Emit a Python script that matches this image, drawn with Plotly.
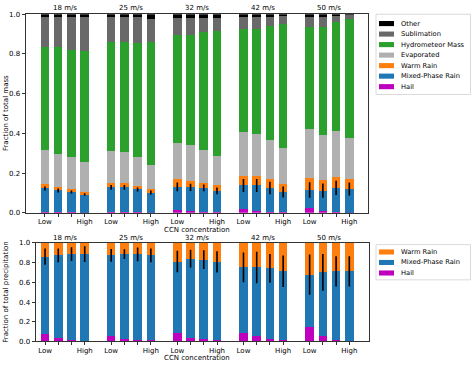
import plotly.graph_objects as go

# ---------------- data ----------------
speeds = ["18 m/s", "25 m/s", "32 m/s", "42 m/s", "50 m/s"]
ccn_labels = ["Low", "", "", "High"]

# Top panel: fraction of total mass (segments, bottom to top)
mass_hail = [0.005, 0.004, 0.002, 0.001, 0.006, 0.004, 0.002, 0.001, 0.015, 0.008,
             0.005, 0.003, 0.020, 0.010, 0.005, 0.002, 0.025, 0.010, 0.003, 0.001]
mass_mixed = [0.118, 0.109, 0.103, 0.091, 0.122, 0.124, 0.116, 0.101, 0.116, 0.120,
              0.121, 0.107, 0.118, 0.128, 0.120, 0.103, 0.090, 0.102, 0.123, 0.119]
mass_warm = [0.022, 0.019, 0.015, 0.015, 0.020, 0.023, 0.018, 0.016, 0.037, 0.032,
             0.025, 0.030, 0.046, 0.046, 0.044, 0.040, 0.058, 0.051, 0.053, 0.049]
mass_evap = [0.173, 0.166, 0.160, 0.151, 0.163, 0.157, 0.145, 0.125, 0.186, 0.182,
             0.165, 0.146, 0.224, 0.214, 0.198, 0.181, 0.247, 0.229, 0.232, 0.206]
mass_hydro = [0.517, 0.539, 0.538, 0.558, 0.548, 0.550, 0.576, 0.617, 0.541, 0.553,
              0.596, 0.628, 0.517, 0.530, 0.576, 0.624, 0.518, 0.546, 0.552, 0.601]
mass_sub = [0.153, 0.151, 0.170, 0.169, 0.126, 0.127, 0.128, 0.115, 0.084, 0.084,
            0.070, 0.068, 0.060, 0.057, 0.042, 0.040, 0.046, 0.046, 0.027, 0.019]
mass_other = [0.012, 0.012, 0.012, 0.015, 0.015, 0.015, 0.015, 0.025, 0.021, 0.021,
              0.018, 0.018, 0.015, 0.015, 0.015, 0.010, 0.016, 0.016, 0.010, 0.005]
mass_err = [0.010, 0.010, 0.008, 0.006, 0.012, 0.012, 0.010, 0.010, 0.022, 0.018,
            0.017, 0.017, 0.033, 0.033, 0.031, 0.028, 0.039, 0.036, 0.036, 0.033]

# Bottom panel: fraction of total precipitation
precip_hail = [0.072, 0.033, 0.010, 0.005, 0.056, 0.030, 0.010, 0.010, 0.089, 0.033,
               0.026, 0.010, 0.089, 0.056, 0.026, 0.017, 0.142, 0.056, 0.017, 0.005]
precip_mixed = [0.789, 0.841, 0.877, 0.882, 0.818, 0.857, 0.874, 0.864, 0.722, 0.808,
                0.805, 0.798, 0.663, 0.696, 0.716, 0.695, 0.536, 0.646, 0.695, 0.707]
precip_warm = [0.139, 0.126, 0.113, 0.113, 0.126, 0.113, 0.116, 0.126, 0.189, 0.159,
               0.169, 0.192, 0.248, 0.248, 0.258, 0.288, 0.322, 0.298, 0.288, 0.288]
precip_err = [0.082, 0.070, 0.070, 0.080, 0.065, 0.050, 0.070, 0.070, 0.109, 0.090,
              0.095, 0.107, 0.152, 0.160, 0.145, 0.160, 0.204, 0.187, 0.154, 0.154]

y_ticks = [0.0, 0.2, 0.4, 0.6, 0.8, 1.0]

# ---------------- styling ----------------
W, H = 474, 366
FONT = "DejaVu Sans"
FS = 7
LFS = 6.7
C = {
    "Other": "#000000",
    "Sublimation": "#696969",
    "Hydrometeor Mass": "#2ca02c",
    "Evaporated": "#b0b0b0",
    "Warm Rain": "#ff7f0e",
    "Mixed-Phase Rain": "#1f77b4",
    "Hail": "#bf00bf",
}
BAR_W = 0.65
AX = "#333333"


def px(x):
    return x / W


def py(y):
    return 1 - y / H


ng = len(speeds)
nb = len(ccn_labels)
xpos = [g * (nb + 1) + i for g in range(ng) for i in range(nb)]
xtext = [ccn_labels[i] for g in range(ng) for i in range(nb)]

fig = go.Figure()

top_series = [("Hail", mass_hail), ("Mixed-Phase Rain", mass_mixed), ("Warm Rain", mass_warm),
              ("Evaporated", mass_evap), ("Hydrometeor Mass", mass_hydro),
              ("Sublimation", mass_sub), ("Other", mass_other)]
for name, vals in top_series:
    fig.add_trace(go.Bar(x=xpos, y=vals, name=name, width=BAR_W, marker=dict(color=C[name], line=dict(width=0)),
                         xaxis="x", yaxis="y", showlegend=False))

bot_series = [("Hail", precip_hail), ("Mixed-Phase Rain", precip_mixed), ("Warm Rain", precip_warm)]
for name, vals in bot_series:
    fig.add_trace(go.Bar(x=xpos, y=vals, name=name, width=BAR_W, marker=dict(color=C[name], line=dict(width=0)),
                         xaxis="x2", yaxis="y2", showlegend=False))

# error bars at the top of the mixed-phase rain segment
fig.add_trace(go.Scatter(x=xpos, y=[h + m for h, m in zip(mass_hail, mass_mixed)], mode="markers",
                         marker=dict(size=1, color="rgba(0,0,0,0)"),
                         error_y=dict(type="data", array=mass_err, color="black", thickness=1.6, width=0),
                         xaxis="x", yaxis="y", showlegend=False, hoverinfo="skip"))
fig.add_trace(go.Scatter(x=xpos, y=[h + m for h, m in zip(precip_hail, precip_mixed)], mode="markers",
                         marker=dict(size=1, color="rgba(0,0,0,0)"),
                         error_y=dict(type="data", array=precip_err, color="black", thickness=1.6, width=0),
                         xaxis="x2", yaxis="y2", showlegend=False, hoverinfo="skip"))

axis_common = dict(showline=True, mirror=True, linecolor=AX, linewidth=0.8, ticks="outside",
                   ticklen=3, tickwidth=0.8, tickcolor=AX, showgrid=False, zeroline=False,
                   tickfont=dict(family=FONT, size=FS, color="black"))

fig.update_layout(
    width=W, height=H, margin=dict(l=0, r=0, t=0, b=0),
    paper_bgcolor="white", plot_bgcolor="white", barmode="stack",
    font=dict(family=FONT, size=FS, color="black"),
    xaxis=dict(domain=[px(25.5), px(368)], anchor="y", range=[-1.47, 24.41],
               tickvals=xpos, ticktext=xtext, ticklabelstandoff=-1, **axis_common),
    yaxis=dict(domain=[py(213.5), py(10.5)], anchor="x", range=[0, 1],
               tickvals=y_ticks, ticktext=[f"{v:.1f}" for v in y_ticks], **axis_common),
    xaxis2=dict(domain=[px(35.5), px(368.5)], anchor="y2", range=[-0.72, 24.45],
                tickvals=xpos, ticktext=xtext, ticklabelstandoff=-1, **axis_common),
    yaxis2=dict(domain=[py(345), py(244.3)], anchor="x2", range=[0, 1],
                tickvals=y_ticks, ticktext=[f"{v:.1f}" for v in y_ticks], **axis_common),
)

ann = []
shapes = []
# speed titles above each group
for g, s in enumerate(speeds):
    xc = g * (nb + 1) + (nb - 1) / 2
    ann.append(dict(text=s, x=xc, xref="x", y=py(4.5), yref="paper", showarrow=False,
                    xanchor="center", yanchor="middle", font=dict(family=FONT, size=FS)))
    ann.append(dict(text=s, x=xc, xref="x2", y=py(239), yref="paper", showarrow=False,
                    xanchor="center", yanchor="middle", font=dict(family=FONT, size=FS)))

# axis titles
for yy in (231, 361.5):
    ann.append(dict(text="CCN concentration", x=px(197), xref="paper", y=py(yy), yref="paper",
                    showarrow=False, xanchor="center", yanchor="middle", borderpad=0,
                    font=dict(family=FONT, size=FS)))
ann.append(dict(text="Fraction of total mass", x=px(5.5), xref="paper", y=py(112), yref="paper",
                textangle=-90, showarrow=False, xanchor="center", yanchor="middle",
                font=dict(family=FONT, size=FS)))
ann.append(dict(text="Fraction of total precipitation", x=px(6.5), xref="paper", y=py(294.6), yref="paper",
                textangle=-90, showarrow=False, xanchor="center", yanchor="middle",
                font=dict(family=FONT, size=FS)))


def legend(names, box_top, box_bot, first_y, step):
    shapes.append(dict(type="rect", xref="paper", yref="paper", x0=px(376), x1=px(470.5),
                       y0=py(box_bot), y1=py(box_top), line=dict(color="#d0d0d0", width=0.8),
                       fillcolor="white", layer="above"))
    for k, n in enumerate(names):
        yc = first_y + k * step
        shapes.append(dict(type="rect", xref="paper", yref="paper", x0=px(379), x1=px(394),
                           y0=py(yc + 2.6), y1=py(yc - 2.6), line=dict(width=0),
                           fillcolor=C[n], layer="above"))
        ann.append(dict(text=n, x=px(399.5), xref="paper", y=py(yc), yref="paper", showarrow=False,
                        xanchor="left", yanchor="middle", borderpad=0, font=dict(family=FONT, size=LFS)))


legend(["Other", "Sublimation", "Hydrometeor Mass", "Evaporated", "Warm Rain", "Mixed-Phase Rain", "Hail"],
       10.5, 92.5, 20.0, 10.75)
legend(["Warm Rain", "Mixed-Phase Rain", "Hail"], 246, 282, 253.5, 10.75)

fig.update_layout(annotations=ann, shapes=shapes)
fig.write_html("out.html", config={"displayModeBar": False},
               post_script="document.body.style.margin='0';document.body.style.overflow='hidden';")
